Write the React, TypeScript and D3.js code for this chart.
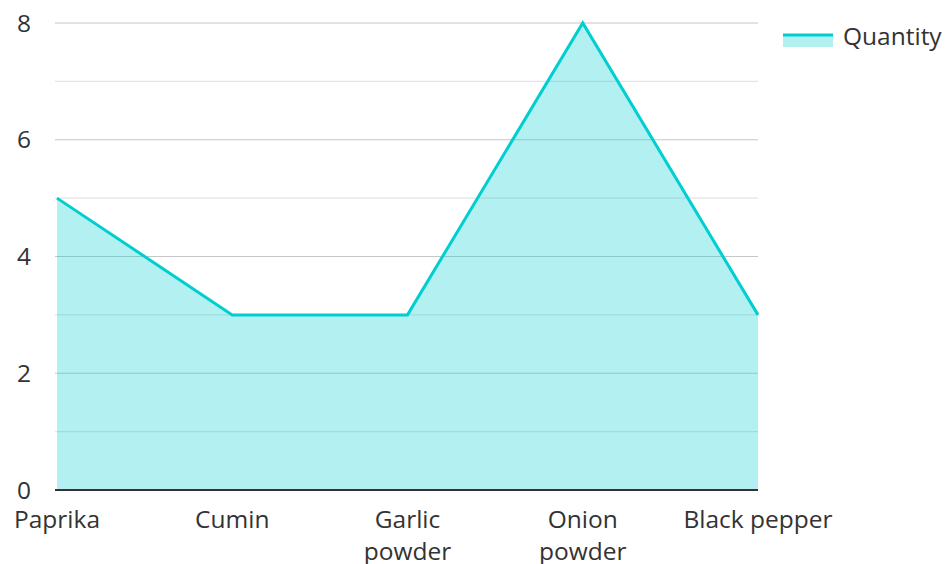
import { scaleLinear, scalePoint, area, line } from "d3";

const categories = ["Paprika", "Cumin", "Garlic powder", "Onion powder", "Black pepper"];
const quantities = [5, 3, 3, 8, 3];
const majorTicks = [0, 2, 4, 6, 8];
const minorTicks = [1, 3, 5, 7];

const W = 945;
const H = 564;
const left = 57;
const right = 758;
const top = 23;
const bottom = 490;
const lineColor = "#00ced1";
const font = "'Open Sans', 'Noto Sans', sans-serif";
const fs = 24.5;

// wrap long names on the space, like the reference does for two-word labels
function labelLines(name: string): string[] {
    if (name === "Black pepper") return [name];
    return name.split(" ");
}

export default function App() {
    const x = scalePoint<string>().domain(categories).range([left, right]);
    const y = scaleLinear().domain([0, 8]).range([bottom, top]);

    const pts = categories.map((c, i) => ({ c, v: quantities[i] }));
    const areaPath = area<{ c: string; v: number }>()
        .x((d) => x(d.c) ?? 0)
        .y0(y(0))
        .y1((d) => y(d.v))(pts);
    const linePath = line<{ c: string; v: number }>()
        .x((d) => x(d.c) ?? 0)
        .y((d) => y(d.v))(pts);

    return (
        <svg
            width={W}
            height={H}
            style={{ position: "absolute", left: 0, top: 0, fontFamily: font }}
        >
            <rect width={W} height={H} fill="#fff" />
            {/* grid */}
            {minorTicks.map((t) => (
                <line key={"m" + t} x1={left - 2} x2={right} y1={y(t)} y2={y(t)} stroke="#e3e3e3" strokeWidth={1.2} />
            ))}
            {majorTicks.filter((t) => t > 0).map((t) => (
                <line key={"M" + t} x1={left - 2} x2={right} y1={y(t)} y2={y(t)} stroke="#c6c6c6" strokeWidth={1.2} />
            ))}
            {/* series */}
            <path d={areaPath ?? ""} fill={lineColor} fillOpacity={0.3} />
            <path d={linePath ?? ""} fill="none" stroke={lineColor} strokeWidth={3} strokeLinejoin="miter" />
            {/* x axis line */}
            <line x1={left - 2} x2={right} y1={y(0)} y2={y(0)} stroke="#333" strokeWidth={2} />
            {/* y tick labels */}
            {majorTicks.map((t) => (
                <text key={"yl" + t} x={31} y={y(t)} dy="0.35em" textAnchor="end" fontSize={fs} fill="#333">
                    {t}
                </text>
            ))}
            {/* x labels */}
            {categories.map((c) => (
                <text key={c} x={x(c) ?? 0} y={528} textAnchor="middle" fontSize={fs} fill="#333">
                    {labelLines(c).map((ln, i) => (
                        <tspan key={i} x={x(c) ?? 0} dy={i === 0 ? 0 : 32}>
                            {ln}
                        </tspan>
                    ))}
                </text>
            ))}
            {/* legend */}
            <rect x={783} y={35} width={50} height={12} fill={lineColor} fillOpacity={0.3} />
            <line x1={783} x2={833} y1={35} y2={35} stroke={lineColor} strokeWidth={3} />
            <text x={843} y={36} dy="0.35em" fontSize={fs} fill="#333">
                Quantity
            </text>
        </svg>
    );
}
